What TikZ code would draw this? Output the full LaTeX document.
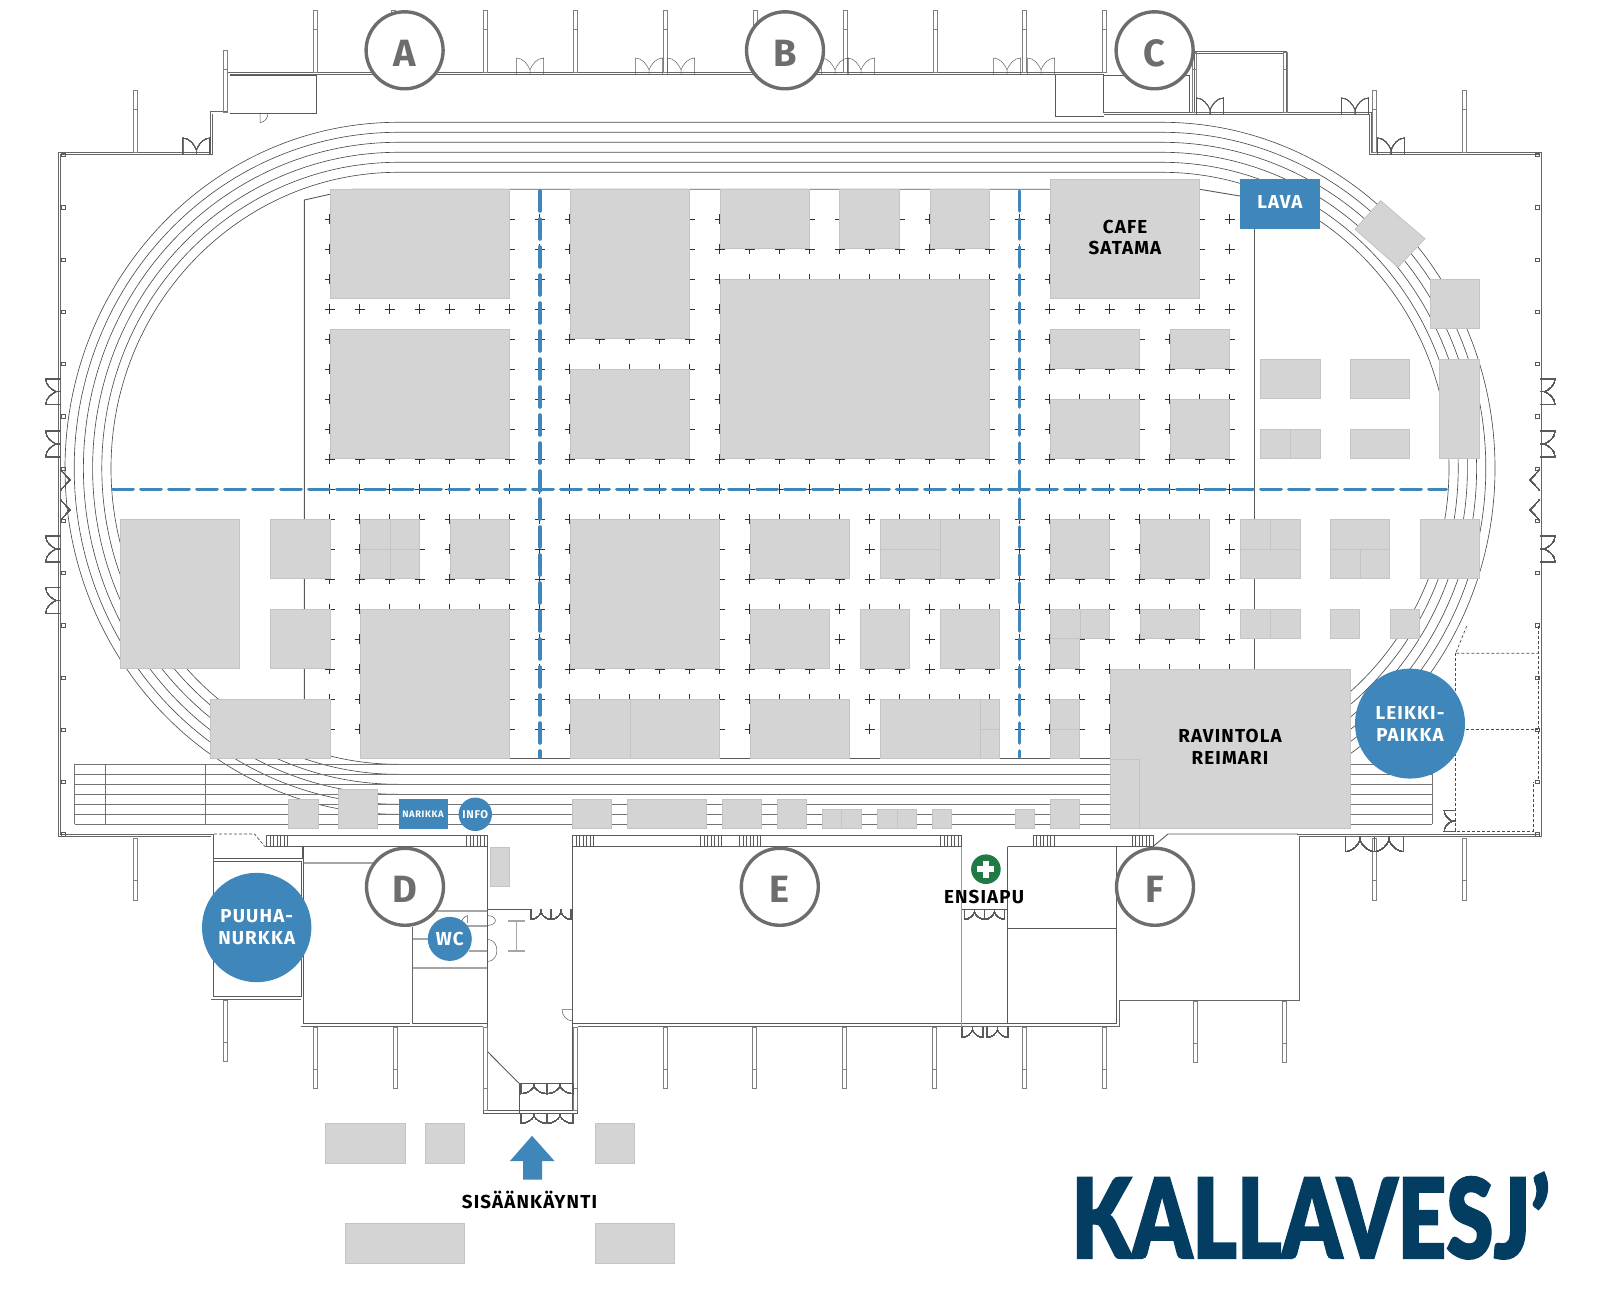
\documentclass[tikz,border=0pt]{standalone}
\usepackage{fontspec}
\usepackage{graphicx}
\setmainfont[LetterSpace=6]{Fira Sans}
\newfontfamily\logofont[FakeBold=1.6]{Lato Black}
\usetikzlibrary{calc}
\definecolor{boothgrey}{HTML}{D4D4D4}
\definecolor{boothline}{HTML}{C4C4C4}
\definecolor{mapblue}{HTML}{3F86BA}
\definecolor{gategrey}{HTML}{6D6D6D}
\definecolor{aidgreen}{HTML}{1F7A44}
\definecolor{logoblue}{HTML}{033E62}
\tikzset{
  wall/.style={draw=black!60,line width=0.35pt,double=white,double distance=0.8pt},
  thinwall/.style={draw=black!65,line width=0.45pt},
  greywall/.style={draw=black!35,line width=1pt},
  door/.style={draw=black!65,line width=0.25pt},
  lane/.style={draw=black!70,line width=0.32pt},
  straight/.style={draw=black!55,line width=0.55pt},
  crossmark/.style={draw=black!80,line width=0.42pt},
  postline/.style={draw=black!50,line width=0.35pt},
  booth/.style={fill=boothgrey,draw=boothline,line width=0.4pt},
  aisle/.style={draw=mapblue,line width=1.8pt,line cap=round,dash pattern=on 10pt off 4pt},
  fence/.style={draw=black!70,line width=0.35pt,dash pattern=on 1.5pt off 1pt},
  gate/.style={circle,draw=gategrey,fill=white,line width=1.7pt,minimum size=38.5pt,inner sep=0pt,text=gategrey,text height=16pt,text depth=0pt,font=\fontsize{19}{19}\selectfont\bfseries},
  bluespot/.style={circle,fill=mapblue,inner sep=0pt,text=white,align=center,font=\fontsize{9.4}{11}\selectfont\bfseries},
  bluebox/.style={fill=mapblue,inner sep=0pt,text=white,font=\fontsize{9.4}{11}\selectfont\bfseries},
  maptext/.style={inner sep=0pt,align=center,font=\fontsize{9.4}{10.9}\selectfont\bfseries},
}
\newcommand{\doorpair}[5]{%
  \begin{scope}[shift={(#1,#2)},rotate=#5,xscale=#3,yscale=#4]
    \draw[door] (-1,0) -- (-1,-1) .. controls (-0.5,-1) and (-0.15,-0.6) .. (0,-0.3) -- (0,0)
      (1,0) -- (1,-1) .. controls (0.5,-1) and (0.15,-0.6) .. (0,-0.3);
  \end{scope}}
\begin{document}
\begin{tikzpicture}[x=0.5pt,y=-0.5pt]
\useasboundingbox (0,0) rectangle (1600,1300);
\foreach \i in {0,...,5} {
  \draw[lane] (1162,{122.3+\i*10}) -- (398,{122.3+\i*10})
    arc[start angle=-90,end angle=-270,x radius={333-\i*9.2},y radius={346-\i*10}];
  \draw[lane] (1162,{122.3+\i*10})
    arc[start angle=-90,end angle=90,x radius={333-\i*9.2},y radius={346-\i*10}];
}
\foreach \i in {0,...,6}
  \draw[straight] (74.6,{764.3+\i*10}) -- (1432.3,{764.3+\i*10});
\draw[straight] (74.6,764.3) -- (74.6,824.3);
\draw[straight] (105.7,764.3) -- (105.7,824.3);
\draw[straight] (205.4,764.3) -- (205.4,824.3);
\draw[straight] (1432.3,764.3) -- (1432.3,824.3);
\foreach \i in {0,...,30}
  \draw[crossmark] \foreach \j in {0,...,17} {
    ({324.6+\i*30},{219.3+\j*30}) -- ++(10,0) ++(-5,-5) -- ++(0,10)
  };
\draw[thinwall] (304.4,720) -- (304.4,200) -- (352,189.3) -- (1199.5,189.3) -- (1240,196);
\draw[thinwall] (509,758.7) -- (1110,758.7);
\draw[thinwall] (1254.3,228) -- (1254.3,669);
\draw[wall] (1104,73.6) -- (228.8,73.6) -- (228.8,112.8) -- (211.3,112.8) -- (211.3,153.5)
  -- (59.3,153.5) -- (59.3,835.5) -- (212,835.5) -- (212,998) -- (302,998) -- (302,1025) -- (483,1025);
\draw[wall] (578,1025) -- (1118,1025) -- (1118,999) -- (1298,999) -- (1298,835.5) -- (1540,835.5)
  -- (1540,153.5) -- (1370.4,153.5) -- (1370.4,113.5) -- (1103.6,113.5);
\draw[wall] (1193.5,113) -- (1193.5,52.5) -- (1285,52.5) -- (1285,113);
\draw[thinwall] (1103.6,116) -- (1055,116) -- (1055,75);
\draw[thinwall] (1103.6,113) -- (1103.6,75) -- (1189.3,75) -- (1189.3,113);
\draw[thinwall] (230,75) -- (316,75) -- (316,113) -- (230,113);
\draw[door] (260,113) -- (260,122.7) .. controls (265,122) and (268,118) .. (268,113);
\draw[thinwall] (266.5,835.2) -- (487.5,835.2);
\draw[thinwall] (572,835.2) -- (961.5,835.2);
\draw[thinwall] (1033,835.2) -- (1153,835.2);
\draw[thinwall] (264.7,846.5) -- (487.5,846.5) -- (487.5,1110) -- (572.3,1110) -- (572.3,846.5) -- (961.8,846.5);
\draw[fence] (214,834) -- (254.5,834) -- (264.7,846.5);
\draw[thinwall] (1007.7,846.5) -- (1153,846.5) -- (1168,834) -- (1298,834);
\draw[thinwall] (213,836) -- (213,858.7) -- (302,858.7) -- (302,846.5);
\draw[thinwall] (213,861.2) rectangle (301,996.6);
\draw[thinwall] (303.6,846.5) -- (303.6,1023.6) -- (487.5,1023.6);
\draw[thinwall] (483,1027) -- (483,1113) -- (577.7,1113) -- (577.7,1027);
\draw[thinwall] (519,1113) -- (519,1083.2) -- (572.3,1083.2);
\draw[thinwall] (487.5,1051.6) -- (519,1083.2);
\draw[thinwall] (487.5,909.6) -- (531,909.6);
\draw[wall] (411,927) -- (411,1023.6);
\draw[greywall] (303.6,863) -- (375,863);
\draw[greywall] (437,910.6) -- (487,910.6);
\draw[greywall] (466,926.4) -- (487,926.4);
\draw[greywall] (413,938.7) -- (440,938.7);
\draw[greywall] (469,950.6) -- (487,950.6);
\draw[greywall] (413,967.5) -- (487,967.5);
\draw[greywall,line width=0.6pt] (516.5,921) -- (516.5,951) (508,921) -- (524.5,921) (508,951) -- (524.5,951);
\draw[door] (487.5,915.6) .. controls (498,915.6) and (498,925.4) .. (487.5,925.4);
\draw[door] (487.5,939.4) .. controls (500,939.4) and (500,961.5) .. (487.5,961.5);
\draw[door] (467.7,923) -- (467.7,915.6) .. controls (464,916) and (462,920) .. (461,923);
\draw[door] (572.3,1009.6) -- (562,1009.6) .. controls (562,1016) and (567,1020.8) .. (572.3,1020.8);
\draw[thinwall] (572.3,1023.6) -- (1116,1023.6) -- (1116,846.5);
\draw[thinwall,draw=black!40] (961.8,835) -- (961.8,1027);
\draw[thinwall] (1007.7,846.5) -- (1007.7,1023.6);
\draw[thinwall] (1007.7,928.2) -- (1116,928.2);
\draw[thinwall] (962,909.6) -- (1007,909.6);
\draw[door] \foreach \xs in {266.5,466.5,572.3,700.5,739.5,940.5,1033.2,1132} {
  \foreach \h in {0,...,6} { ({\xs+\h*3.5},835.2) -- ++(0,11.3) }
};
\foreach \xp/\ya/\yb/\yt in {315/10/72/29.3,393/10/72/29.3,485/10/72/29.3,575/10/72/29.3,665/10/72/29.3,755/10/72/29.3,845/10/72/29.3,935/10/72/29.3,1024.5/10/72/29.3,1104.6/10/72/29.3,135/90/152/109,225/50/112/69,1194/52/112/69,1285/52/112/69,1374/90/152/109,1464/90/152/109,135/838/900/880.5,225/1000/1061.5/1042,315/1027/1088.5/1069,395/1027/1088.5/1069,485/1027/1110/1088.5,575/1027/1110/1088.5,665/1027/1088.5/1069,754.5/1027/1088.5/1069,844.7/1027/1088.5/1069,934.8/1027/1088.5/1069,1024/1027/1088.5/1069,1104.7/1027/1088.5/1069,1195/1001/1062/1043,1284/1001/1062/1043,1374.5/838/900/880.5,1464/838/900/880.5}
  \draw[postline] ({\xp-2},\ya) rectangle ({\xp+2},\yb) ({\xp-2},\yt) -- ({\xp+2},\yt);
\draw[door] \foreach \k in {0,...,13} {
  (61,{155+\k*52.25-1.7}) rectangle (65.2,{155+\k*52.25+1.7})
  (1534.8,{155+\k*52.25-1.7}) rectangle (1539,{155+\k*52.25+1.7})
};
\foreach \xd in {530,649,681,835,861,1007,1041}
  \doorpair{\xd}{75}{13.5}{17}{0}
\foreach \xd in {1210,1355}
  \doorpair{\xd}{115}{13.5}{17}{0}
\foreach \xd in {196.4,1391}
  \doorpair{\xd}{155}{13.5}{17}{0}
\foreach \yd in {391.7,444,549,600.5}
  \doorpair{60.7}{\yd}{12.8}{15}{90}
\foreach \yd in {391.7,444,549}
  \doorpair{1540}{\yd}{12.8}{15}{-90}
\doorpair{1360}{836}{14.7}{15.5}{180}
\doorpair{1389}{836}{14.7}{15.5}{180}
\doorpair{534}{1083.2}{13}{10.5}{180}
\doorpair{560}{1083.2}{13}{10.5}{180}
\doorpair{534}{1113}{13}{10.5}{180}
\doorpair{560}{1113}{13}{10.5}{180}
\doorpair{541}{909.6}{10}{9.8}{180}
\doorpair{561}{909.6}{10}{9.8}{180}
\doorpair{974.5}{909.6}{10}{9.8}{180}
\doorpair{994.5}{909.6}{10}{9.8}{180}
\doorpair{972.5}{1027}{10.5}{10.5}{180}
\doorpair{997.5}{1027}{10.5}{10.5}{180}
\doorpair{1455.7}{821}{10.3}{11.5}{90}
\foreach \ya in {470,500}
  \draw[door] (60.7,\ya) -- (70,{\ya+10}) -- (60.7,{\ya+20}) (1539.3,\ya) -- (1530,{\ya+10}) -- (1539.3,{\ya+20});
\draw[fence] (1466.7,626) -- (1455.7,653.3) -- (1538.3,653.3);
\draw[fence] (1455.7,653.3) -- (1455.7,831.7) -- (1533,831.7) -- (1533,781.7);
\draw[fence] (1455.7,729.3) -- (1538.3,729.3);
\draw[fence] (1538.3,626) -- (1538.3,780);
\foreach \xa/\ya/\xb/\yb in {330.6/189.3/509.7/298.7,330.6/329.3/509.7/458.7,570/189.3/689.3/338.7,570/369/689.3/458.7,720/189.3/809.7/248.7,720/279.3/989.8/458.7,839.8/189.3/899.5/248.7,930/189.3/989.8/248.7,1050/329.3/1139.3/368.7,1170/329.3/1229.6/368.7,1050/399.3/1139.3/458.7,1170/399.3/1229.6/458.7,1430/279.3/1479.6/328.7,1439.8/359.3/1479.6/458.7,1260/359.3/1320/398.7,1350/359.3/1409.7/398.7,1260/429.3/1320/458.7,1350/429.3/1409.7/458.7,120.4/519.3/239.6/668.7,270.4/519.3/330/578.7,360.4/519.3/419.6/578.7,450/519.3/509.6/578.7,270.4/609.3/330/668.7,360.4/609.3/509.6/758.7,210.4/699.3/330/758.7,570.4/519.3/719.6/668.7,750.4/519.3/849.6/578.7,880.4/519.3/999.6/578.7,750.4/609.3/829.6/668.7,860.4/609.3/909.6/668.7,940.4/609.3/999.6/668.7,570.4/699.3/719.6/758.7,750.4/699.3/849.6/758.7,880.4/699.3/999.6/758.7,1050/519.3/1109.7/578.7,1140/519.3/1209.7/578.7,1050/609.3/1109.7/638.7,1050/638.7/1079.7/668.7,1140/609.3/1199.7/638.7,1050/699.3/1079.7/758.7,1240/519.3/1300/578.7,1330/519.3/1389.7/578.7,1420.3/519.3/1479.7/578.7,1240/609.3/1300/638.7,1330/609.3/1359.7/638.7,1390.3/609.3/1419.7/638.7,288.2/799.3/317.9/828.7,338.2/789.3/377.5/828.7,572.1/799.3/611.8/828.7,627/799.3/706.8/828.7,722/799.3/761.8/828.7,777/799.3/806.8/828.7,822/809.3/861.8/828.7,877/809.3/916.8/828.7,932/809.3/951.8/828.7,1015.4/809.3/1034.6/828.7,1050.4/799.3/1079.6/828.7,490/847.3/509.7/886.7,325/1123.5/405/1163.2,425/1123.5/464.7/1163.2,595/1123.5/634.8/1163.2,345/1223.5/464.7/1263.2,595/1223.5/674.5/1263.2,1050/179.3/1199.5/298.7,1110.3/669.3/1350/828.7}
  \draw[booth] (\xa,\ya) rectangle (\xb,\yb);
\draw[booth] (1380.6,200.7) -- (1425,238.7) -- (1398,267.3) -- (1355,229.3) -- cycle;
\draw[boothline,line width=0.5pt] \foreach \xa/\ya/\xb/\yb in {1290/429.3/1290/458.7,390/519.3/390/578.7,360.4/549.3/419.6/549.3,880.4/549.3/940/549.3,940/519.3/940/578.7,630/699.3/630/758.7,980/699.3/980/758.7,980/729.3/999.6/729.3,1080/609.3/1080/638.7,1050/729.3/1079.7/729.3,1270.3/519.3/1270.3/549.3,1240/549.3/1300/549.3,1330/549.3/1389.7/549.3,1360/549.3/1360/578.7,1270.3/609.3/1270.3/638.7,841.8/809.3/841.8/828.7,897/809.3/897/828.7,1139.7/759.3/1139.7/828.7,1110.3/759.3/1139.7/759.3} { (\xa,\ya) -- (\xb,\yb) };
\draw[aisle] (113,489.3) -- (1446,489.3);
\draw[aisle] (539.7,191) -- (539.7,757);
\draw[aisle] (1019.6,191) -- (1019.6,757);
\node[gate] (gateA) at (404.6,50.3) {A};
\node[gate] (gateB) at (785,50.3) {B};
\node[gate] (gateC) at (1154.6,50.3) {C};
\node[gate] (gateD) at (405,886.8) {D};
\node[gate] (gateE) at (779.8,886.8) {E};
\node[gate] (gateF) at (1155,886.8) {F};
\node[bluespot,minimum size=54.7pt] (puuha) at (256.7,927.5) {PUUHA-\\NURKKA};
\node[bluespot,minimum size=55pt] (leikki) at (1410,723.6) {LEIKKI-\\PAIKKA};
\node[bluespot,minimum size=22pt] (wc) at (449.8,938.9) {WC};
\node[bluespot,minimum size=16.7pt,font=\fontsize{5.6}{6}\selectfont\bfseries] (info) at (475.3,814.3) {INFO};
\node[bluebox,minimum width=24.5pt,minimum height=14.7pt,font=\fontsize{4.7}{5}\selectfont\bfseries] (narikka) at (423,814) {NARIKKA};
\node[bluebox,minimum width=40pt,minimum height=24.7pt,text height=4.5pt,text depth=0pt] (lava) at (1279.9,204) {LAVA};
\node[maptext] (cafe) at (1125,237.5) {CAFE\\SATAMA};
\node[maptext] (ravintola) at (1230,747) {RAVINTOLA\\REIMARI};
\node[circle,fill=aidgreen,minimum size=14.8pt,inner sep=0pt] (aid) at (985.9,869.2) {};
\fill[white] ($(aid)+(-8.5,-3)$) rectangle ($(aid)+(8.5,3)$);
\fill[white] ($(aid)+(-3,-8.5)$) rectangle ($(aid)+(3,8.5)$);
\node[maptext] (ensiapu) at (984,897.3) {ENSIAPU};
\fill[mapblue] (532,1135.8) -- (554.5,1161) -- (542,1161) -- (542,1179.7) -- (523,1179.7) -- (523,1161) -- (510,1161) -- cycle;
\node[maptext] (entry) at (529.5,1199.8) {SISÄÄNKÄYNTI};
\node[inner sep=0pt,text=logoblue] (logo) at (1310.7,1215.6) {\resizebox{239pt}{43pt}{\logofont KALLAVESJ’}};
\end{tikzpicture}
\end{document}
